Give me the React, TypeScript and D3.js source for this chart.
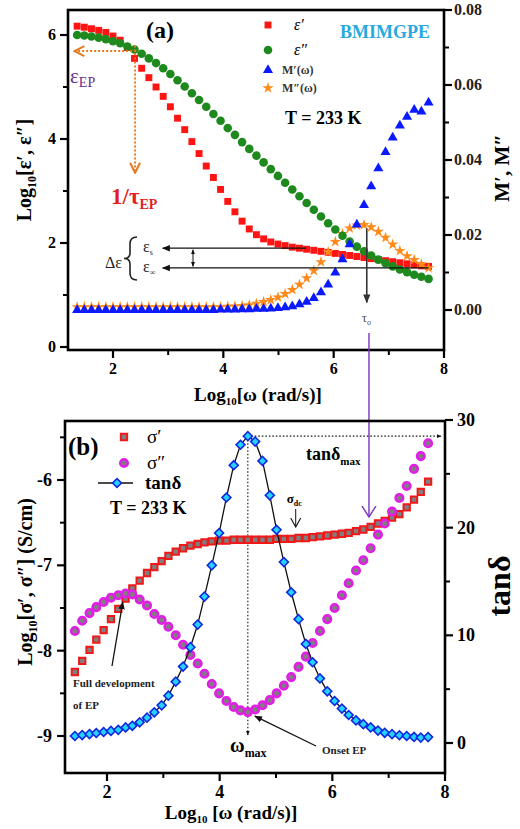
import React from 'react';
import * as d3 from 'd3';

const W = 520;
const H = 829;
const FONT = '"Liberation Serif", "Times New Roman", Times, serif';

// ---------- Panel (a): permittivity and electric modulus ----------
const logOmegaA = [
  1.35, 1.48, 1.61, 1.74, 1.87, 2.0, 2.13, 2.26, 2.39, 2.52,
  2.65, 2.78, 2.91, 3.04, 3.17, 3.3, 3.43, 3.56, 3.69, 3.82,
  3.95, 4.08, 4.21, 4.34, 4.47, 4.6, 4.73, 4.86, 4.99, 5.12,
  5.25, 5.38, 5.51, 5.64, 5.77, 5.9, 6.03, 6.16, 6.29, 6.42,
  6.55, 6.68, 6.81, 6.94, 7.07, 7.2, 7.33, 7.46, 7.59, 7.72,
];
const epsReal = [
  6.17, 6.15, 6.12, 6.09, 6.05, 5.98, 5.9, 5.76, 5.55, 5.36,
  5.18, 5.0, 4.82, 4.62, 4.4, 4.18, 3.95, 3.72, 3.48, 3.26,
  3.03, 2.8, 2.6, 2.42, 2.27, 2.16, 2.08, 2.02, 1.98, 1.95,
  1.92, 1.9, 1.88, 1.86, 1.84, 1.82, 1.8, 1.78, 1.76, 1.74,
  1.72, 1.7, 1.68, 1.66, 1.64, 1.62, 1.6, 1.58, 1.56, 1.55,
];
const epsImag = [
  6.0, 5.99, 5.97, 5.95, 5.92, 5.88, 5.84, 5.78, 5.72, 5.64,
  5.55, 5.46, 5.36, 5.25, 5.13, 5.01, 4.88, 4.75, 4.62, 4.48,
  4.35, 4.21, 4.08, 3.94, 3.81, 3.68, 3.55, 3.42, 3.29, 3.16,
  3.03, 2.9, 2.77, 2.64, 2.51, 2.38, 2.26, 2.14, 2.03, 1.93,
  1.84, 1.76, 1.68, 1.61, 1.55, 1.49, 1.44, 1.39, 1.35, 1.31,
];
const modReal = [
  0, 0, 0, 0, 0, 0, 0, 0, 0, 0,
  0, 0, 0, 0, 0, 0, 0, 0, 0, 0,
  0.0001, 0.0001, 0.0001, 0.0002, 0.0002, 0.0003, 0.0003, 0.0004, 0.0005, 0.0007,
  0.001, 0.0015, 0.0022, 0.0032, 0.0047, 0.0068, 0.01, 0.0135, 0.0175, 0.0228,
  0.028, 0.033, 0.0378, 0.0421, 0.046, 0.0492, 0.0515, 0.0534, 0.0529, 0.0553,
];
const modImag = [
  0.0008, 0.0008, 0.0008, 0.0008, 0.0008, 0.0008, 0.0008, 0.0008, 0.0008, 0.0008,
  0.0008, 0.0008, 0.0008, 0.0008, 0.0008, 0.0008, 0.0008, 0.0008, 0.0008, 0.0008,
  0.0008, 0.0009, 0.001, 0.0011, 0.0013, 0.0017, 0.0022, 0.0027, 0.0034, 0.0043,
  0.0054, 0.0068, 0.0085, 0.0105, 0.0128, 0.0155, 0.0182, 0.0203, 0.0218, 0.0226,
  0.0227, 0.0221, 0.0209, 0.0193, 0.0175, 0.0158, 0.0144, 0.0134, 0.0122, 0.0112,
];

// ---------- Panel (b): conductivity and loss tangent ----------
const logOmegaB = [
  1.43, 1.56, 1.69, 1.81, 1.94, 2.07, 2.2, 2.33, 2.45, 2.58,
  2.71, 2.84, 2.97, 3.09, 3.22, 3.35, 3.48, 3.61, 3.73, 3.86,
  3.99, 4.12, 4.25, 4.37, 4.5, 4.63, 4.76, 4.89, 5.01, 5.14,
  5.27, 5.4, 5.53, 5.65, 5.78, 5.91, 6.04, 6.17, 6.29, 6.42,
  6.55, 6.68, 6.81, 6.93, 7.06, 7.19, 7.32, 7.45, 7.57, 7.7,
];
const sigmaReal = [
  -8.25, -8.12, -7.99, -7.87, -7.76, -7.63, -7.51, -7.39, -7.27, -7.18,
  -7.09, -7.02, -6.95, -6.89, -6.84, -6.8, -6.77, -6.75, -6.73, -6.72,
  -6.71, -6.71, -6.7, -6.7, -6.7, -6.7, -6.7, -6.7, -6.69, -6.69,
  -6.69, -6.68, -6.68, -6.67, -6.66, -6.65, -6.64, -6.63, -6.62, -6.6,
  -6.58, -6.55, -6.51, -6.48, -6.44, -6.4, -6.32, -6.23, -6.14, -6.02,
];
const sigmaImag = [
  -7.77, -7.65, -7.56, -7.49, -7.43, -7.38, -7.35, -7.33, -7.34, -7.4,
  -7.47, -7.57, -7.64, -7.72, -7.82, -7.93, -8.05, -8.15, -8.27, -8.39,
  -8.5, -8.59, -8.66, -8.7, -8.72, -8.69, -8.64, -8.58, -8.5, -8.41,
  -8.31, -8.19, -8.07, -7.91, -7.77, -7.63, -7.5, -7.35, -7.21, -7.06,
  -6.94, -6.8, -6.64, -6.51, -6.37, -6.21, -6.07, -5.87, -5.72, -5.57,
];
const tanDelta = [
  0.65, 0.74, 0.83, 0.93, 1.02, 1.12, 1.22, 1.45, 1.6, 1.92,
  2.35, 2.85, 3.5, 4.4, 5.7, 7.1, 8.9, 11.0, 13.6, 16.5,
  19.5, 22.8, 25.8, 27.7, 28.5, 28.0, 26.2, 23.0, 19.8, 16.8,
  14.0, 11.5, 9.2, 7.5, 6.0, 4.8, 3.9, 3.2, 2.6, 2.1,
  1.75, 1.45, 1.15, 0.95, 0.82, 0.72, 0.65, 0.56, 0.5, 0.55,
];

// Tick values
const xMajor = [2, 4, 6, 8];
const xMinor = [3, 5, 7];
const epsMajor = [0, 2, 4, 6];
const epsMinor = [1, 3, 5];
const modMajor = [0, 0.02, 0.04, 0.06, 0.08];
const modMinor = [0.01, 0.03, 0.05, 0.07];
const sigMajor = [-9, -8, -7, -6];
const sigMinor = [-8.5, -7.5, -6.5, -5.5];
const tanMajor = [0, 10, 20, 30];
const tanMinor = [5, 15, 25];

// Plot frames
const FA = { left: 68, right: 444, top: 10, bottom: 350 };
const FB = { left: 65, right: 445, top: 421, bottom: 773 };

// Scales
const xA = d3.scaleLinear().domain([2, 8]).range([113, 444]);
const yAL = d3.scaleLinear().domain([0, 6]).range([347, 35]);
const yAR = d3.scaleLinear().domain([0, 0.08]).range([310, 10]);
const xB = d3.scaleLinear().domain([2, 8]).range([107, 445]);
const yBL = d3.scaleLinear().domain([-9, -6]).range([736, 480]);
const yBR = d3.scaleLinear().domain([0, 30]).range([743, 420]);

const sym = (type: d3.SymbolType, size: number) => d3.symbol().type(type).size(size)() as string;
const SQ_A = sym(d3.symbolSquare, 48);
const CI_A = sym(d3.symbolCircle, 58);
const TRI_A = sym(d3.symbolTriangle, 44);
const STAR_A = sym(d3.symbolStar, 40);
const SQ_B = sym(d3.symbolSquare, 40);
const CI_B = sym(d3.symbolCircle, 44);
const DIA_B = sym(d3.symbolSquare, 40);

const RED = '#ff1414';
const GREEN = '#1e8a1e';
const BLUE = '#0a1aff';
const ORANGE = '#ff8a1a';
const MAGENTA = '#e01ee6';
const GREY = '#7f7f7f';
const CYAN = '#22d4ff';
const DIAEDGE = '#1028e0';
const PURPLE = '#7a36bf';

const fmt2 = d3.format('.2f');

function Frame({ f }: { f: { left: number; right: number; top: number; bottom: number } }) {
  return (
    <rect x={f.left} y={f.top} width={f.right - f.left} height={f.bottom - f.top}
      fill="none" stroke="#000" strokeWidth={2.6} />
  );
}

export default function App() {
  const lineTan = d3.line<number>()
    .x((_, i) => xB(logOmegaB[i]))
    .y((d) => yBR(d))
    .curve(d3.curveLinear);

  const tanPeakIdx = d3.maxIndex(tanDelta);
  const tanPeakX = xB(logOmegaB[tanPeakIdx]);
  const tanPeakY = yBR(tanDelta[tanPeakIdx]);
  const minSigIdx = d3.minIndex(sigmaImag);

  const purpleX = xA(6.64);

  return (
    <svg width={W} height={H} viewBox={`0 0 ${W} ${H}`}
      style={{ position: 'absolute', left: 0, top: 0, background: '#fff', fontFamily: FONT }}>
      <defs>
        <marker id="arrBlack" viewBox="0 0 10 10" refX="9" refY="5" markerWidth="8" markerHeight="8"
          markerUnits="userSpaceOnUse" orient="auto-start-reverse">
          <path d="M0,1 L10,5 L0,9 z" fill="#111" />
        </marker>
        <marker id="arrSmall" viewBox="0 0 10 10" refX="9" refY="5" markerWidth="5" markerHeight="5"
          markerUnits="userSpaceOnUse" orient="auto-start-reverse">
          <path d="M0,1 L10,5 L0,9 z" fill="#111" />
        </marker>
        <marker id="arrGrey" viewBox="0 0 10 10" refX="9" refY="5" markerWidth="9" markerHeight="9"
          markerUnits="userSpaceOnUse" orient="auto">
          <path d="M0,1 L10,5 L0,9 z" fill="#333" />
        </marker>
        <marker id="arrOrange" viewBox="0 -6 12 12" refX="11" refY="0" markerWidth="12" markerHeight="12"
          markerUnits="userSpaceOnUse" orient="auto">
          <path d="M1,-5 L11,0 L1,5" fill="none" stroke="#e8781e" strokeWidth={2} />
        </marker>
        <marker id="arrPurple" viewBox="0 -8 12 16" refX="11" refY="0" markerWidth="12" markerHeight="16"
          markerUnits="userSpaceOnUse" orient="auto">
          <path d="M0,-7 L11,0 L0,7" fill="none" stroke={PURPLE} strokeWidth={1.4} />
        </marker>
        <marker id="arrOpenBlack" viewBox="0 -6 10 12" refX="9" refY="0" markerWidth="10" markerHeight="12"
          markerUnits="userSpaceOnUse" orient="auto">
          <path d="M0,-5 L9,0 L0,5" fill="none" stroke="#111" strokeWidth={1.1} />
        </marker>
      </defs>

      {/* ================= Panel (a) ================= */}
      <g>
        {logOmegaA.map((x, i) => (
          <path key={`er${i}`} d={SQ_A} transform={`translate(${xA(x)},${yAL(epsReal[i])})`} fill={RED} />
        ))}
        {logOmegaA.map((x, i) => (
          <path key={`mi${i}`} d={STAR_A} transform={`translate(${xA(x)},${yAR(modImag[i])})`} fill={ORANGE} />
        ))}
        {logOmegaA.map((x, i) => (
          <path key={`ei${i}`} d={CI_A} transform={`translate(${xA(x)},${yAL(epsImag[i])})`} fill={GREEN} />
        ))}
        {logOmegaA.map((x, i) => (
          <path key={`mr${i}`} d={TRI_A} transform={`translate(${xA(x)},${yAR(modReal[i])})`} fill={BLUE} />
        ))}

        <Frame f={FA} />

        {epsMajor.map((v) => (
          <g key={`al${v}`}>
            <line x1={FA.left - 8} x2={FA.left} y1={yAL(v)} y2={yAL(v)} stroke="#000" strokeWidth={2.2} />
            <text x={FA.left - 12} y={yAL(v) + 5} textAnchor="end" fontSize={16} fontWeight="bold">{v}</text>
          </g>
        ))}
        {epsMinor.map((v) => (
          <line key={`alm${v}`} x1={FA.left - 5} x2={FA.left} y1={yAL(v)} y2={yAL(v)} stroke="#000" strokeWidth={2} />
        ))}
        {modMajor.map((v) => (
          <g key={`ar${v}`}>
            <line x1={FA.right} x2={FA.right + 8} y1={yAR(v)} y2={yAR(v)} stroke="#000" strokeWidth={2.2} />
            <text x={FA.right + 10} y={yAR(v) + 5} fontSize={16} fontWeight="bold" fill="#222">{fmt2(v)}</text>
          </g>
        ))}
        {modMinor.map((v) => (
          <line key={`arm${v}`} x1={FA.right} x2={FA.right + 5} y1={yAR(v)} y2={yAR(v)} stroke="#000" strokeWidth={2} />
        ))}
        {xMajor.map((v) => (
          <g key={`ab${v}`}>
            <line x1={xA(v)} x2={xA(v)} y1={FA.bottom} y2={FA.bottom + 8} stroke="#000" strokeWidth={2.2} />
            <text x={xA(v)} y={FA.bottom + 24} textAnchor="middle" fontSize={16} fontWeight="bold">{v}</text>
          </g>
        ))}
        {xMinor.map((v) => (
          <line key={`abm${v}`} x1={xA(v)} x2={xA(v)} y1={FA.bottom} y2={FA.bottom + 5} stroke="#000" strokeWidth={2} />
        ))}

        <text x={258} y={401} textAnchor="middle" fontSize={19} fontWeight="bold">
          Log<tspan fontSize={11} dy={4}>10</tspan><tspan dy={-4}>[ω (rad/s)]</tspan>
        </text>
        <text transform="translate(31,170) rotate(-90)" textAnchor="middle" fontSize={20} fontWeight="bold">
          Log<tspan fontSize={12} dy={5}>10</tspan><tspan dy={-5}>[ε′, ε″]</tspan>
        </text>
        <text transform="translate(509,168) rotate(-90)" textAnchor="middle" fontSize={21} fontWeight="bold">
          M′, M″
        </text>

        <text x={146} y={38} fontSize={24} fontWeight="bold">(a)</text>
        <path d={SQ_A} transform="translate(268,25)" fill={RED} />
        <text x={294} y={30} fontSize={16} fontStyle="italic">ε′</text>
        <path d={CI_A} transform="translate(268,50)" fill={GREEN} />
        <text x={294} y={55} fontSize={16} fontStyle="italic">ε″</text>
        <path d={TRI_A} transform="translate(268,70)" fill={BLUE} />
        <text x={282} y={74} fontSize={12} fontWeight="bold" fill="#333">M′(ω)</text>
        <path d={STAR_A} transform="translate(268,88)" fill={ORANGE} />
        <text x={282} y={92} fontSize={12} fontWeight="bold" fill="#333">M″(ω)</text>
        <text x={340} y={38} fontSize={18} fontWeight="bold" fill="#29a9e0">BMIMGPE</text>
        <text x={285} y={124} fontSize={18} fontWeight="bold">T = 233 K</text>

        <line x1={xA(2.42)} x2={xA(1.3)} y1={yAL(5.69)} y2={yAL(5.69)} stroke="#e8781e" strokeWidth={2}
          strokeDasharray="2 2" markerEnd="url(#arrOrange)" />
        <line x1={xA(2.4)} x2={xA(2.4)} y1={yAL(5.8)} y2={yAL(3.35)} stroke="#e8781e" strokeWidth={2}
          strokeDasharray="2 2" markerEnd="url(#arrOrange)" />
        <text x={70} y={83} fontSize={21} fill="#6b2a90">ε<tspan fontSize={14} dy={4}>EP</tspan></text>
        <text x={111} y={204} fontSize={23} fontWeight="bold" fill="#e31e24">
          1/τ<tspan fontSize={14} dy={5}>EP</tspan>
        </text>

        <line x1={xA(5.5)} x2={xA(2.9)} y1={yAL(1.9)} y2={yAL(1.9)} stroke="#111" strokeWidth={1.3}
          markerEnd="url(#arrBlack)" />
        <line x1={xA(7.72)} x2={xA(2.9)} y1={yAL(1.52)} y2={yAL(1.52)} stroke="#111" strokeWidth={1.3}
          markerEnd="url(#arrBlack)" />
        <line x1={xA(3.45)} x2={xA(3.45)} y1={yAL(1.87)} y2={yAL(1.55)} stroke="#111" strokeWidth={1}
          markerStart="url(#arrSmall)" markerEnd="url(#arrSmall)" />
        <path d="M137,237 Q130,237 130,244 L130,253 Q130,258.5 124,258.5 Q130,258.5 130,264 L130,273 Q130,280 137,280"
          fill="none" stroke="#222" strokeWidth={1.6} />
        <text x={122} y={268} textAnchor="end" fontSize={16} fill="#222">Δε</text>
        <text x={143} y={252} fontSize={16} fill="#222">ε<tspan fontSize={8} dy={3}>s</tspan></text>
        <text x={143} y={272} fontSize={16} fill="#222">ε<tspan fontSize={8} dy={3}>∞</tspan></text>

        <line x1={xA(6.6)} x2={xA(6.6)} y1={yAR(0.0218)} y2={yAR(0.002)} stroke="#333" strokeWidth={1.6}
          markerEnd="url(#arrGrey)" />
        <text x={xA(6.6) - 5} y={322} fontSize={13} fill="#555">τ<tspan fontSize={8} dy={3}>σ</tspan></text>
      </g>

      <line x1={purpleX} x2={purpleX} y1={333} y2={517} stroke={PURPLE} strokeWidth={1.4}
        markerEnd="url(#arrPurple)" />

      {/* ================= Panel (b) ================= */}
      <g>
        <line x1={tanPeakX} x2={tanPeakX} y1={tanPeakY} y2={yBL(-9) - 1} stroke="#111" strokeWidth={1.1}
          strokeDasharray="1.5 2" markerEnd="url(#arrSmall)" />
        <line x1={tanPeakX} x2={FB.right - 4} y1={tanPeakY} y2={tanPeakY} stroke="#111" strokeWidth={1.1}
          strokeDasharray="1.5 2" markerEnd="url(#arrSmall)" />

        {logOmegaB.map((x, i) => (
          <path key={`sr${i}`} d={SQ_B} transform={`translate(${xB(x)},${yBL(sigmaReal[i])})`}
            fill={GREY} stroke="#f01818" strokeWidth={2} />
        ))}
        {logOmegaB.map((x, i) => (
          <path key={`si${i}`} d={CI_B} transform={`translate(${xB(x)},${yBL(sigmaImag[i])})`}
            fill={GREY} stroke={MAGENTA} strokeWidth={2.6} />
        ))}
        <path d={lineTan(tanDelta) as string} fill="none" stroke="#111" strokeWidth={1.3} />
        {logOmegaB.map((x, i) => (
          <path key={`td${i}`} d={DIA_B} transform={`translate(${xB(x)},${yBR(tanDelta[i])}) rotate(45)`}
            fill={CYAN} stroke={DIAEDGE} strokeWidth={1.6} />
        ))}

        <Frame f={FB} />

        {sigMajor.map((v) => (
          <g key={`bl${v}`}>
            <line x1={FB.left - 8} x2={FB.left} y1={yBL(v)} y2={yBL(v)} stroke="#000" strokeWidth={2.2} />
            <text x={FB.left - 13} y={yBL(v) + 6} textAnchor="end" fontSize={18} fontWeight="bold">{v}</text>
          </g>
        ))}
        {sigMinor.map((v) => (
          <line key={`blm${v}`} x1={FB.left - 5} x2={FB.left} y1={yBL(v)} y2={yBL(v)} stroke="#000" strokeWidth={2} />
        ))}
        {tanMajor.map((v) => (
          <g key={`br${v}`}>
            <line x1={FB.right} x2={FB.right + 8} y1={yBR(v)} y2={yBR(v)} stroke="#000" strokeWidth={2.2} />
            <text x={FB.right + 12} y={yBR(v) + 6} fontSize={18} fontWeight="bold">{v}</text>
          </g>
        ))}
        {tanMinor.map((v) => (
          <line key={`brm${v}`} x1={FB.right} x2={FB.right + 5} y1={yBR(v)} y2={yBR(v)} stroke="#000" strokeWidth={2} />
        ))}
        {xMajor.map((v) => (
          <g key={`bb${v}`}>
            <line x1={xB(v)} x2={xB(v)} y1={FB.bottom} y2={FB.bottom + 8} stroke="#000" strokeWidth={2.2} />
            <text x={xB(v)} y={FB.bottom + 25} textAnchor="middle" fontSize={18} fontWeight="bold">{v}</text>
          </g>
        ))}
        {xMinor.map((v) => (
          <line key={`bbm${v}`} x1={xB(v)} x2={xB(v)} y1={FB.bottom} y2={FB.bottom + 5} stroke="#000" strokeWidth={2} />
        ))}

        <text x={231} y={819} textAnchor="middle" fontSize={19} fontWeight="bold">
          Log<tspan fontSize={11} dy={4}>10</tspan><tspan dy={-4}> [ω (rad/s)]</tspan>
        </text>
        <text transform="translate(32,582) rotate(-90)" textAnchor="middle" fontSize={20} fontWeight="bold">
          Log<tspan fontSize={12} dy={5}>10</tspan><tspan dy={-5}>[σ′, σ″] (S/cm)</tspan>
        </text>
        <text transform="translate(510,586) rotate(-90)" textAnchor="middle" fontSize={32} fontWeight="bold">
          tanδ
        </text>

        <text x={68} y={455} fontSize={25} fontWeight="bold">(b)</text>
        <path d={SQ_B} transform="translate(124,437)" fill={GREY} stroke="#f01818" strokeWidth={2} />
        <text x={147} y={443} fontSize={19}>σ′</text>
        <path d={CI_B} transform="translate(124,463)" fill={GREY} stroke={MAGENTA} strokeWidth={2.6} />
        <text x={147} y={469} fontSize={19}>σ″</text>
        <line x1={98} x2={133} y1={483} y2={483} stroke="#111" strokeWidth={1.3} />
        <path d={DIA_B} transform="translate(117,483) rotate(45)" fill={CYAN} stroke={DIAEDGE} strokeWidth={1.6} />
        <text x={145} y={489} fontSize={19} fontWeight="bold">tanδ</text>
        <text x={110} y={514} fontSize={18} fontWeight="bold">T = 233 K</text>

        <text x={306} y={460} fontSize={18} fontWeight="bold">
          tanδ<tspan fontSize={11} dy={5}>max</tspan>
        </text>
        <text x={xB(5.35) - 9} y={503} fontSize={13} fontWeight="bold">
          σ<tspan fontSize={8} dy={3}>dc</tspan>
        </text>
        <line x1={xB(5.35)} x2={xB(5.35)} y1={509} y2={527} stroke="#111" strokeWidth={1}
          markerEnd="url(#arrOpenBlack)" />
        <text x={230} y={752} fontSize={20} fontWeight="bold">
          ω<tspan fontSize={12} dy={5}>max</tspan>
        </text>

        <text x={73} y={687} fontSize={11} fontWeight="bold" fill="#222">Full development</text>
        <text x={73} y={709} fontSize={11} fontWeight="bold" fill="#222">of EP</text>
        <line x1={112} x2={xB(2.28)} y1={666} y2={yBL(-7.43)} stroke="#111" strokeWidth={1.3}
          markerEnd="url(#arrBlack)" />

        <text x={322} y={754} fontSize={11} fontWeight="bold" fill="#222">Onset EP</text>
        <line x1={316} x2={xB(logOmegaB[minSigIdx]) + 7} y1={746} y2={yBL(sigmaImag[minSigIdx]) + 4}
          stroke="#111" strokeWidth={1.3} markerEnd="url(#arrBlack)" />
      </g>
    </svg>
  );
}
